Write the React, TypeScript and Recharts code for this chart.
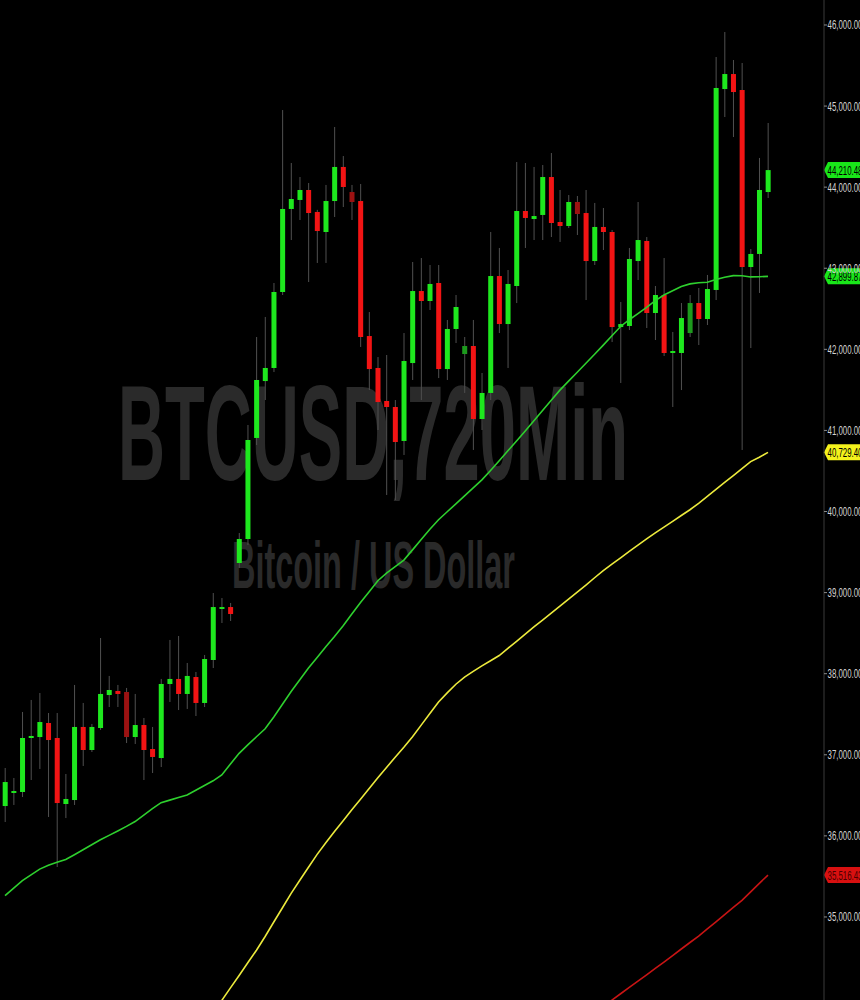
import { ComposedChart, Bar, Line, XAxis, YAxis, ReferenceLine } from "recharts";

const W = 860;
const H = 1000;

// 720-minute candles
const OPEN = [
  36368, 36529, 36541, 37207, 37219, 37392, 37207, 36393, 36442, 37343,
  37059, 37330, 37737, 37787, 37774, 37219, 37367, 37071, 36960, 37873,
  37935, 37750, 37959, 37639, 38169, 38798, 38822, 39365, 39661, 40907,
  41609, 41770, 42707, 43731, 43842, 43965, 43694, 43447, 43829, 44249,
  43940, 43829, 42164, 41770, 41363, 41289, 40870, 41831, 42719, 42596,
  42818, 41757, 42251, 41942, 42041, 41141, 41462, 42904, 42312, 42781,
  43706, 43607, 43657, 44125, 43570, 43521, 43817, 43681, 43089, 43509,
  43447, 42275, 42288, 43089, 43336, 42448, 42670, 41955, 41955, 42201,
  42571, 42374, 42732, 45210, 45395, 45198, 43015, 43176, 43940,
];
const HIGH = [
  36837, 36714, 37528, 37676, 37762, 37515, 37515, 36763, 37861, 37639,
  37380, 38440, 37972, 37861, 37824, 37750, 37454, 37343, 37935, 38416,
  38465, 38132, 38021, 38231, 38995, 38933, 38872, 39735, 41067, 42152,
  42399, 42818, 44951, 44298, 44125, 44051, 43720, 44027, 44742, 44384,
  44027, 44039, 42460, 41905, 41930, 41375, 42201, 43077, 43126, 43040,
  43040, 42362, 42670, 42152, 42362, 41708, 43447, 43250, 42978, 44310,
  44298, 44249, 44273, 44421, 43965, 43903, 43891, 43965, 43805, 43743,
  43472, 42584, 43250, 43817, 43385, 42781, 43126, 42214, 42571, 42670,
  42756, 42917, 45605, 45913, 45568, 45531, 43237, 44360, 44791,
];
const LOW = [
  36171, 36381, 36479, 36689, 36825, 36233, 35616, 36220, 36381, 36862,
  37034, 37306, 37589, 37589, 37145, 37133, 36689, 36775, 36849, 37651,
  37552, 37565, 37478, 37589, 38070, 38625, 38650, 39303, 39587, 40820,
  41375, 41720, 42670, 43348, 43595, 42830, 43065, 43065, 43632, 43755,
  43595, 42029, 41498, 41005, 40204, 40142, 40697, 41622, 41375, 42485,
  41646, 41622, 42078, 41462, 40759, 41005, 41375, 42201, 41770, 42571,
  43250, 43348, 43348, 43385, 43324, 43496, 43410, 42608, 43040, 43225,
  42090, 41585, 42238, 42855, 42263, 42115, 41918, 41289, 41498, 42152,
  42053, 42300, 42608, 44865, 44618, 40759, 42016, 42695, 43866,
];
const CLOSE = [
  36664, 36553, 37207, 37232, 37404, 37182, 36405, 36455, 37343, 37059,
  37343, 37750, 37799, 37750, 37219, 37367, 37059, 36973, 37873, 37935,
  37750, 37972, 37639, 38181, 38822, 38822, 38736, 39661, 40882, 41622,
  41770, 42707, 43731, 43854, 43965, 43681, 43459, 43829, 44249, 44002,
  43817, 42152, 41757, 41350, 41289, 40857, 41856, 42719, 42596, 42806,
  41757, 42251, 42522, 42041, 41141, 41462, 42904, 42312, 42806, 43706,
  43620, 43644, 44125, 43558, 43521, 43817, 43669, 43089, 43509, 43447,
  42275, 42312, 43114, 43348, 42448, 42670, 41955, 41979, 42386, 42571,
  42374, 42744, 45223, 45395, 45173, 43015, 43176, 43965, 44210.48,
];

// moving averages (green / yellow / red)
const MA_FAST = [
  35262, 35356, 35448, 35520, 35590, 35638, 35674, 35710, 35768, 35828,
  35890, 35952, 36006, 36061, 36117, 36177, 36256, 36336, 36409, 36441,
  36473, 36504, 36562, 36621, 36679, 36752, 36886, 37018, 37123, 37222,
  37320, 37466, 37624, 37780, 37926, 38069, 38201, 38333, 38459, 38591,
  38736, 38877, 39011, 39146, 39241, 39321, 39401, 39527, 39655, 39782,
  39898, 39997, 40094, 40193, 40291, 40390, 40505, 40627, 40749, 40870,
  40994, 41120, 41245, 41372, 41497, 41608, 41717, 41828, 41939, 42052,
  42167, 42282, 42365, 42441, 42518, 42601, 42670, 42723, 42774, 42807,
  42822, 42828, 42860, 42890, 42909, 42907, 42893, 42896, 42899.87,
];
const MA_MID = [
  null, null, null, null, null, null, null, null, null, null,
  null, null, null, null, null, null, null, null, null, null,
  null, null, null, null, 33816, 33971, 34126, 34279, 34436, 34590,
  34759, 34938, 35114, 35291, 35452, 35613, 35772, 35916, 36053, 36187,
  36321, 36453, 36585, 36717, 36844, 36969, 37093, 37223, 37366, 37508,
  37651, 37764, 37870, 37958, 38028, 38096, 38160, 38224, 38312, 38400,
  38489, 38577, 38662, 38748, 38834, 38920, 39005, 39092, 39183, 39270,
  39350, 39429, 39508, 39586, 39663, 39737, 39808, 39879, 39951, 40022,
  40101, 40186, 40273, 40359, 40444, 40530, 40615, 40669, 40729.4,
];
const MA_SLOW = [
  null, null, null, null, null, null, null, null, null, null,
  null, null, null, null, null, null, null, null, null, null,
  null, null, null, null, null, null, null, null, null, null,
  null, null, null, null, null, null, null, null, null, null,
  null, null, null, null, null, null, null, null, null, null,
  null, null, null, null, null, null, null, null, null, null,
  null, null, null, null, null, null, null, null, null, 33896,
  33975, 34053, 34131, 34209, 34287, 34366, 34443, 34523, 34605, 34685,
  34765, 34852, 34940, 35029, 35117, 35205, 35310, 35415, 35516.43,
];

const PRICE_TICKS = [35000, 36000, 37000, 38000, 39000, 40000, 41000, 42000, 43000, 44000, 45000, 46000];
const Y_DOMAIN = [33976, 46308];
const X_DOMAIN = [-0.58, 94.46];

// candles drawn in the darker shade
const DIM = [14, 40, 53, 66, 79];

const chartData = OPEN.map((o, i) => ({
  i,
  o,
  h: HIGH[i],
  l: LOW[i],
  c: CLOSE[i],
  range: [LOW[i], HIGH[i]],
  fast: MA_FAST[i],
  mid: MA_MID[i],
  slow: MA_SLOW[i],
}));

const LAST = [
  { value: CLOSE[CLOSE.length - 1], fill: "#19e619", color: "#000" },
  { value: MA_FAST[MA_FAST.length - 1], fill: "#19e619", color: "#000" },
  { value: MA_MID[MA_MID.length - 1], fill: "#f4f21c", color: "#000" },
  { value: MA_SLOW[MA_SLOW.length - 1], fill: "#d81010", color: "#4a0000" },
];

const AXIS_FONT = "'Liberation Sans Narrow', 'Arial Narrow', 'Liberation Sans', sans-serif";

const fmt = (v: number) =>
  v.toLocaleString("en-US", { minimumFractionDigits: 2, maximumFractionDigits: 2 });

function Candle(props: any) {
  const { x, y, width, height, payload } = props;
  if (!payload || height == null || isNaN(y)) return null;
  const { o, h, l, c, i } = payload;
  const k = h - l > 0 ? height / (h - l) : 0;
  const top = y + (h - Math.max(o, c)) * k;
  const bot = y + (h - Math.min(o, c)) * k;
  const up = c >= o;
  const dim = DIM.includes(i);
  const fill = up ? (dim ? "#1d9a1d" : "#1ee81e") : dim ? "#9c1212" : "#f21414";
  const cx = x + width / 2;
  return (
    <g>
      <line x1={cx} x2={cx} y1={y} y2={y + height} stroke="#505050" strokeWidth={1} />
      <rect x={x} y={top} width={width} height={Math.max(1.5, bot - top)} fill={fill} />
    </g>
  );
}

function PriceTick(props: any) {
  const { x, y, payload } = props;
  return (
    <g>
      <line x1={x} x2={x + 3} y1={y} y2={y} stroke="#8a8a8a" strokeWidth={1} />
      <text
        x={x + 3.5}
        y={y + 4.5}
        fill="#d2d2d2"
        fontSize={12.5}
        fontFamily={AXIS_FONT}
        textLength={35}
        lengthAdjust="spacingAndGlyphs"
      >
        {fmt(payload.value)}
      </text>
    </g>
  );
}

function Badge(props: any) {
  const { viewBox, value, fill, color } = props;
  if (!viewBox) return null;
  const x = viewBox.x + viewBox.width;
  const y = viewBox.y;
  const hh = 8;
  const w = 40;
  return (
    <g>
      <path
        d={`M${x} ${y} L${x + 4} ${y - hh} L${x + w} ${y - hh} L${x + w} ${y + hh} L${x + 4} ${y + hh} Z`}
        fill={fill}
      />
      <text
        x={x + 3.5}
        y={y + 4.5}
        fill={color}
        fontSize={12.5}
        fontFamily={AXIS_FONT}
        textLength={35}
        lengthAdjust="spacingAndGlyphs"
      >
        {fmt(value)}
      </text>
    </g>
  );
}

export default function App() {
  return (
    <div
      style={{
        position: "absolute",
        left: 0,
        top: 0,
        width: W,
        height: H,
        background: "#000",
        overflow: "hidden",
      }}
    >
      {/* watermark */}
      <svg width={W} height={H} style={{ position: "absolute", left: 0, top: 0 }}>
        <text
          x={118}
          y={480}
          fontSize={136}
          fontWeight="bold"
          fontFamily="'Liberation Sans Narrow', 'Liberation Sans', sans-serif"
          fill="#2a2a2a"
          textLength={510}
          lengthAdjust="spacingAndGlyphs"
        >
          BTCUSD,720Min
        </text>
        <text
          x={232}
          y={588}
          fontSize={67}
          fontWeight="bold"
          fontFamily="'Liberation Sans Narrow', 'Liberation Sans', sans-serif"
          fill="#2a2a2a"
          textLength={283}
          lengthAdjust="spacingAndGlyphs"
        >
          Bitcoin / US Dollar
        </text>
      </svg>

      <div style={{ position: "absolute", left: 0, top: 0 }}>
        <ComposedChart
          width={W}
          height={H}
          data={chartData}
          margin={{ top: 0, right: 0, bottom: 0, left: 0 }}
        >
          <XAxis dataKey="i" type="number" domain={X_DOMAIN} allowDataOverflow hide />
          <YAxis
            orientation="right"
            width={36}
            domain={Y_DOMAIN}
            allowDataOverflow
            ticks={PRICE_TICKS}
            interval={0}
            tickLine={false}
            tickSize={0}
            tickMargin={0}
            axisLine={{ stroke: "#3a3a3a" }}
            tick={(p: any) => <PriceTick {...p} />}
          />
          <Bar dataKey="range" barSize={5} shape={(p: any) => <Candle {...p} />} isAnimationActive={false} />
          <Line dataKey="slow" stroke="#c81414" strokeWidth={1.6} dot={false} activeDot={false} isAnimationActive={false} />
          <Line dataKey="mid" stroke="#ecea3c" strokeWidth={1.6} dot={false} activeDot={false} isAnimationActive={false} />
          <Line dataKey="fast" stroke="#2ed02e" strokeWidth={1.6} dot={false} activeDot={false} isAnimationActive={false} />
          {LAST.map((b) => (
            <ReferenceLine
              key={b.value}
              y={b.value}
              stroke="none"
              label={{
                content: (p: any) => <Badge viewBox={p.viewBox} value={b.value} fill={b.fill} color={b.color} />,
              }}
            />
          ))}
        </ComposedChart>
      </div>
    </div>
  );
}
